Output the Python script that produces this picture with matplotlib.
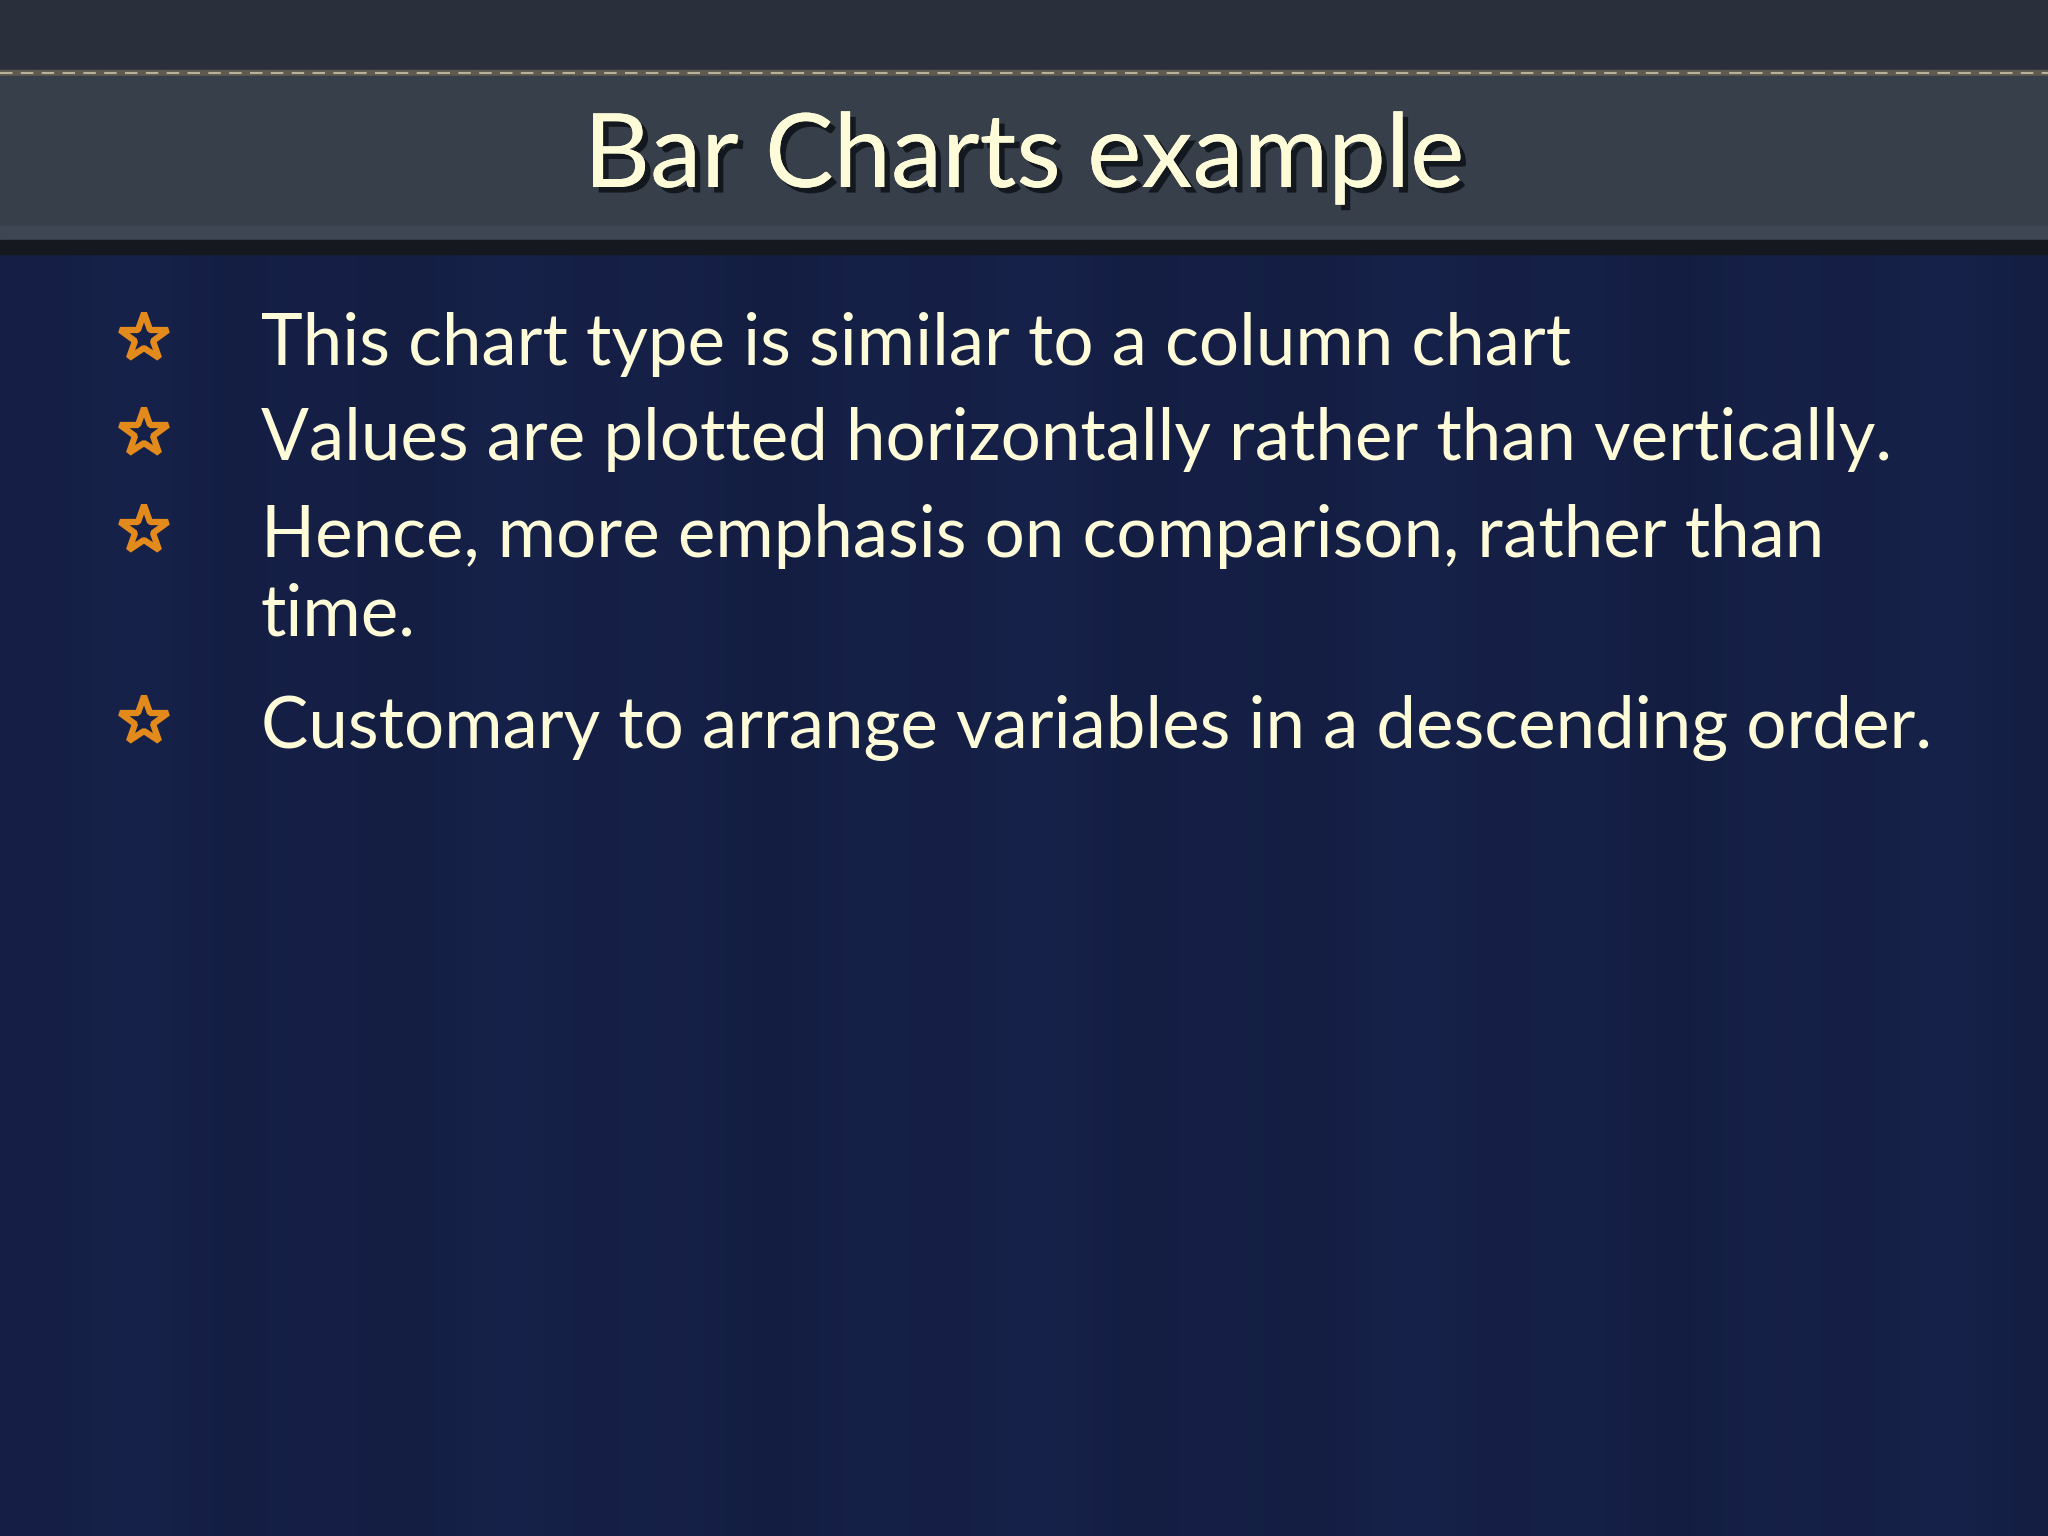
import numpy as np
import matplotlib
matplotlib.use("Agg")
import matplotlib.pyplot as plt
import matplotlib.patheffects as pe

title = "Bar Charts example"
bullets = [
    ["This chart type is similar to a column chart"],
    ["Values are plotted horizontally rather than vertically."],
    ["Hence, more emphasis on comparison, rather than", "time."],
    ["Customary to arrange variables in a descending order."],
]
bullet_baselines = [365, 460, 557, 748]
line_step = 79

W, H = 2048, 1536
fig = plt.figure(figsize=(20.48, 15.36), dpi=100)
ax = fig.add_axes([0, 0, 1, 1])
ax.set_xlim(0, W)
ax.set_ylim(H, 0)
ax.axis("off")

# background: navy with faint vertical banding
xx = np.arange(W)
band = 0.5 + 0.5 * np.sin(xx / 97.0) * np.cos(xx / 41.0)
base = np.array([0x17, 0x22, 0x4a]) / 255.0
dark = np.array([0x0f, 0x17, 0x36]) / 255.0
img = base[None, None, :] * (1 - 0.4 * band[None, :, None]) + dark[None, None, :] * 0.4 * band[None, :, None]
img = np.repeat(img, H, axis=0)
ax.imshow(img, extent=[0, W, H, 0], aspect="auto", zorder=0)

# header band
ax.add_patch(plt.Rectangle((0, 0), W, 70, color="#2a303b", zorder=1))
ax.add_patch(plt.Rectangle((0, 70), W, 6, color="#5e5a50", zorder=1))
ax.add_patch(plt.Rectangle((0, 76), W, 164, color="#373f4b", zorder=1))
ax.add_patch(plt.Rectangle((0, 226), W, 14, color="#3e4653", zorder=1))
ax.add_patch(plt.Rectangle((0, 240), W, 14, color="#15191f", zorder=1))
ax.plot([0, W], [73, 73], color="#b8b29a", lw=1.5, ls=(0, (6, 4)), zorder=2)

font = "Lato"
txt_col = "#fdfbd8"

ax.text(1024, 187, title, ha="center", va="baseline", fontsize=74,
        family=font, color=txt_col, zorder=5,
        path_effects=[pe.withSimplePatchShadow(offset=(4, -4), shadow_rgbFace="#10131a", alpha=0.9), pe.Normal()])

for lines, yb in zip(bullets, bullet_baselines):
    for i, s in enumerate(lines):
        ax.text(261, yb + i * line_step, s, ha="left", va="baseline", fontsize=51,
                family=font, color=txt_col, zorder=5)
    ax.plot([144], [yb - 27], marker="*", ms=36, mfc="none", mec="#e28a1c",
            mew=4.5, zorder=5)

fig.savefig("out.png", dpi=100)
